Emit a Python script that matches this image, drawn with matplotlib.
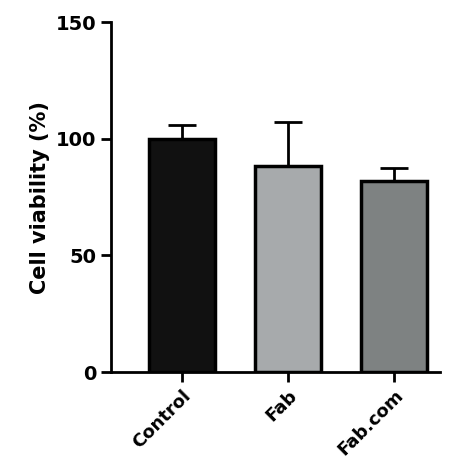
import matplotlib.pyplot as plt
import numpy as np

groups = ['Control', 'Fab', 'Fab.com']
viability = [100, 88.5, 82]
err_up = [6, 18.5, 5.5]
colors = ['#111111', '#a7aaac', '#7e8282']

fig = plt.figure(figsize=(4.74, 4.71), dpi=100)
ax = fig.add_axes([0.234, 0.21, 0.694, 0.743])

x = np.arange(len(groups))
ax.bar(x, viability, width=0.62, color=colors, edgecolor='black', linewidth=2.5, zorder=2)
ax.errorbar(x, viability, yerr=[np.zeros(len(x)), err_up], fmt='none',
            ecolor='black', elinewidth=2, capsize=10, capthick=2, zorder=1)

ax.set_xlim(-0.67, 2.43)
ax.set_ylim(0, 150)
ax.set_yticks([0, 50, 100, 150])
ax.set_xticks(x)
ax.set_xticklabels(groups, rotation=45, ha='right', rotation_mode='anchor',
                   fontsize=13, fontweight='bold')
for lbl in ax.get_yticklabels():
    lbl.set_fontweight('bold')
    lbl.set_fontsize(14)
ax.set_ylabel('Cell viability (%)', fontsize=15, fontweight='bold')
ax.spines['top'].set_visible(False)
ax.spines['right'].set_visible(False)
ax.spines['left'].set_linewidth(2)
ax.spines['bottom'].set_linewidth(2)
ax.tick_params(width=2, length=7)

fig.savefig('out.png', dpi=100)
